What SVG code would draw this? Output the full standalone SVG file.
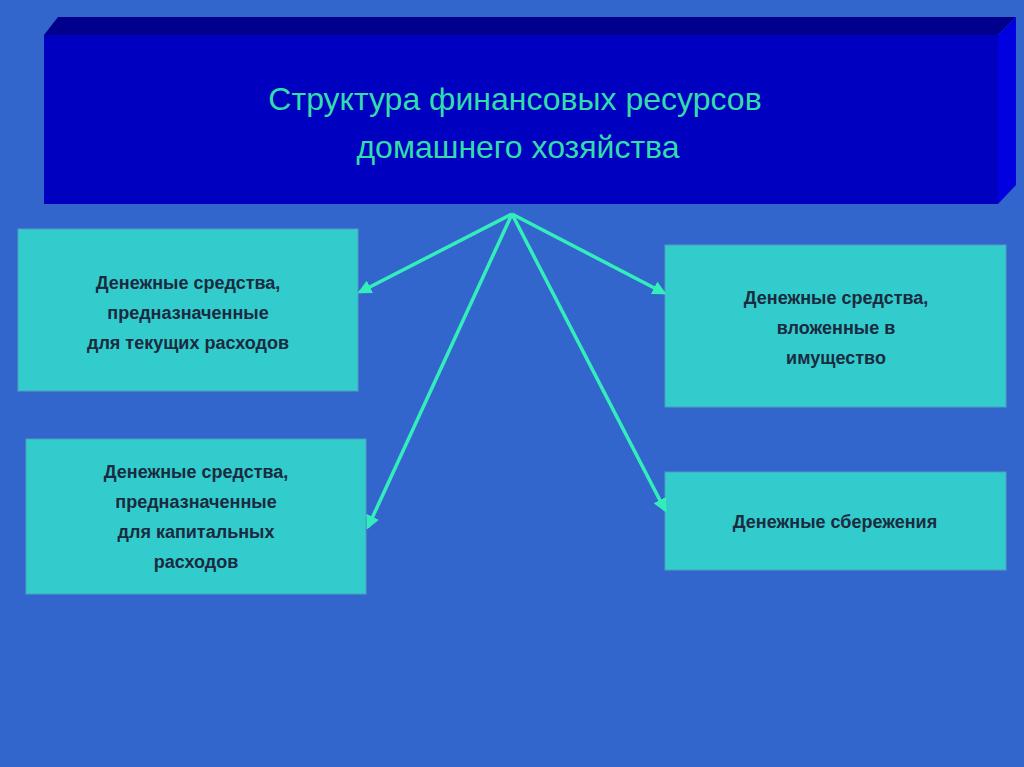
<svg xmlns="http://www.w3.org/2000/svg" width="1024" height="767" viewBox="0 0 1024 767">
<defs>
<style>
.box{fill:#33CCCC;stroke:#4da0c0;stroke-width:1}
.t{font-family:"Liberation Sans",Arial,sans-serif;font-size:18px;font-weight:bold;fill:#1a2a40;text-anchor:middle}
.c{stroke:#33EEBB;stroke-width:3.5;fill:none;marker-end:url(#a)}
</style>
<marker id="a" viewBox="0 0 10 10" refX="8" refY="5" markerWidth="4" markerHeight="4" orient="auto" markerUnits="strokeWidth"><path d="M0,0L10,5L0,10z" fill="#33EEBB"/></marker>
</defs>
<rect width="1024" height="767" fill="#3366CC"/>
<g id="title">
<polygon points="44,35 58,17 1016,17 998,35" fill="#00008C"/>
<polygon points="998,35 1016,17 1016,185 998,204" fill="#0000E0"/>
<rect x="44" y="35" width="954" height="169" fill="#0000C0"/>
<text x="515" y="110" font-family="Liberation Sans,Arial,sans-serif" font-size="32" fill="#33DDAA" text-anchor="middle">Структура финансовых ресурсов</text>
<text x="518" y="158" font-family="Liberation Sans,Arial,sans-serif" font-size="32" fill="#33DDAA" text-anchor="middle">домашнего хозяйства</text>
</g>
<g id="n1"><rect class="box" x="18" y="229" width="340" height="162"/>
<text class="t" x="188" y="289">Денежные средства,</text><text class="t" x="188" y="319">предназначенные</text><text class="t" x="188" y="349">для текущих расходов</text></g>
<g id="n2"><rect class="box" x="26" y="439" width="340" height="155"/>
<text class="t" x="196" y="478">Денежные средства,</text><text class="t" x="196" y="508">предназначенные</text><text class="t" x="196" y="538">для капитальных</text><text class="t" x="196" y="568">расходов</text></g>
<g id="n3"><rect class="box" x="665" y="245" width="341" height="162"/>
<text class="t" x="836" y="304">Денежные средства,</text><text class="t" x="836" y="334">вложенные в</text><text class="t" x="836" y="364">имущество</text></g>
<g id="n4"><rect class="box" x="665" y="472" width="341" height="98"/>
<text class="t" x="835" y="528">Денежные сбережения</text></g>
<g id="connectors">
<path class="c" d="M512,214L360,292"/>
<path class="c" d="M512,214L368,527"/>
<path class="c" d="M512,214L664,293"/>
<path class="c" d="M512,214L665,510"/>
</g>
</svg>
